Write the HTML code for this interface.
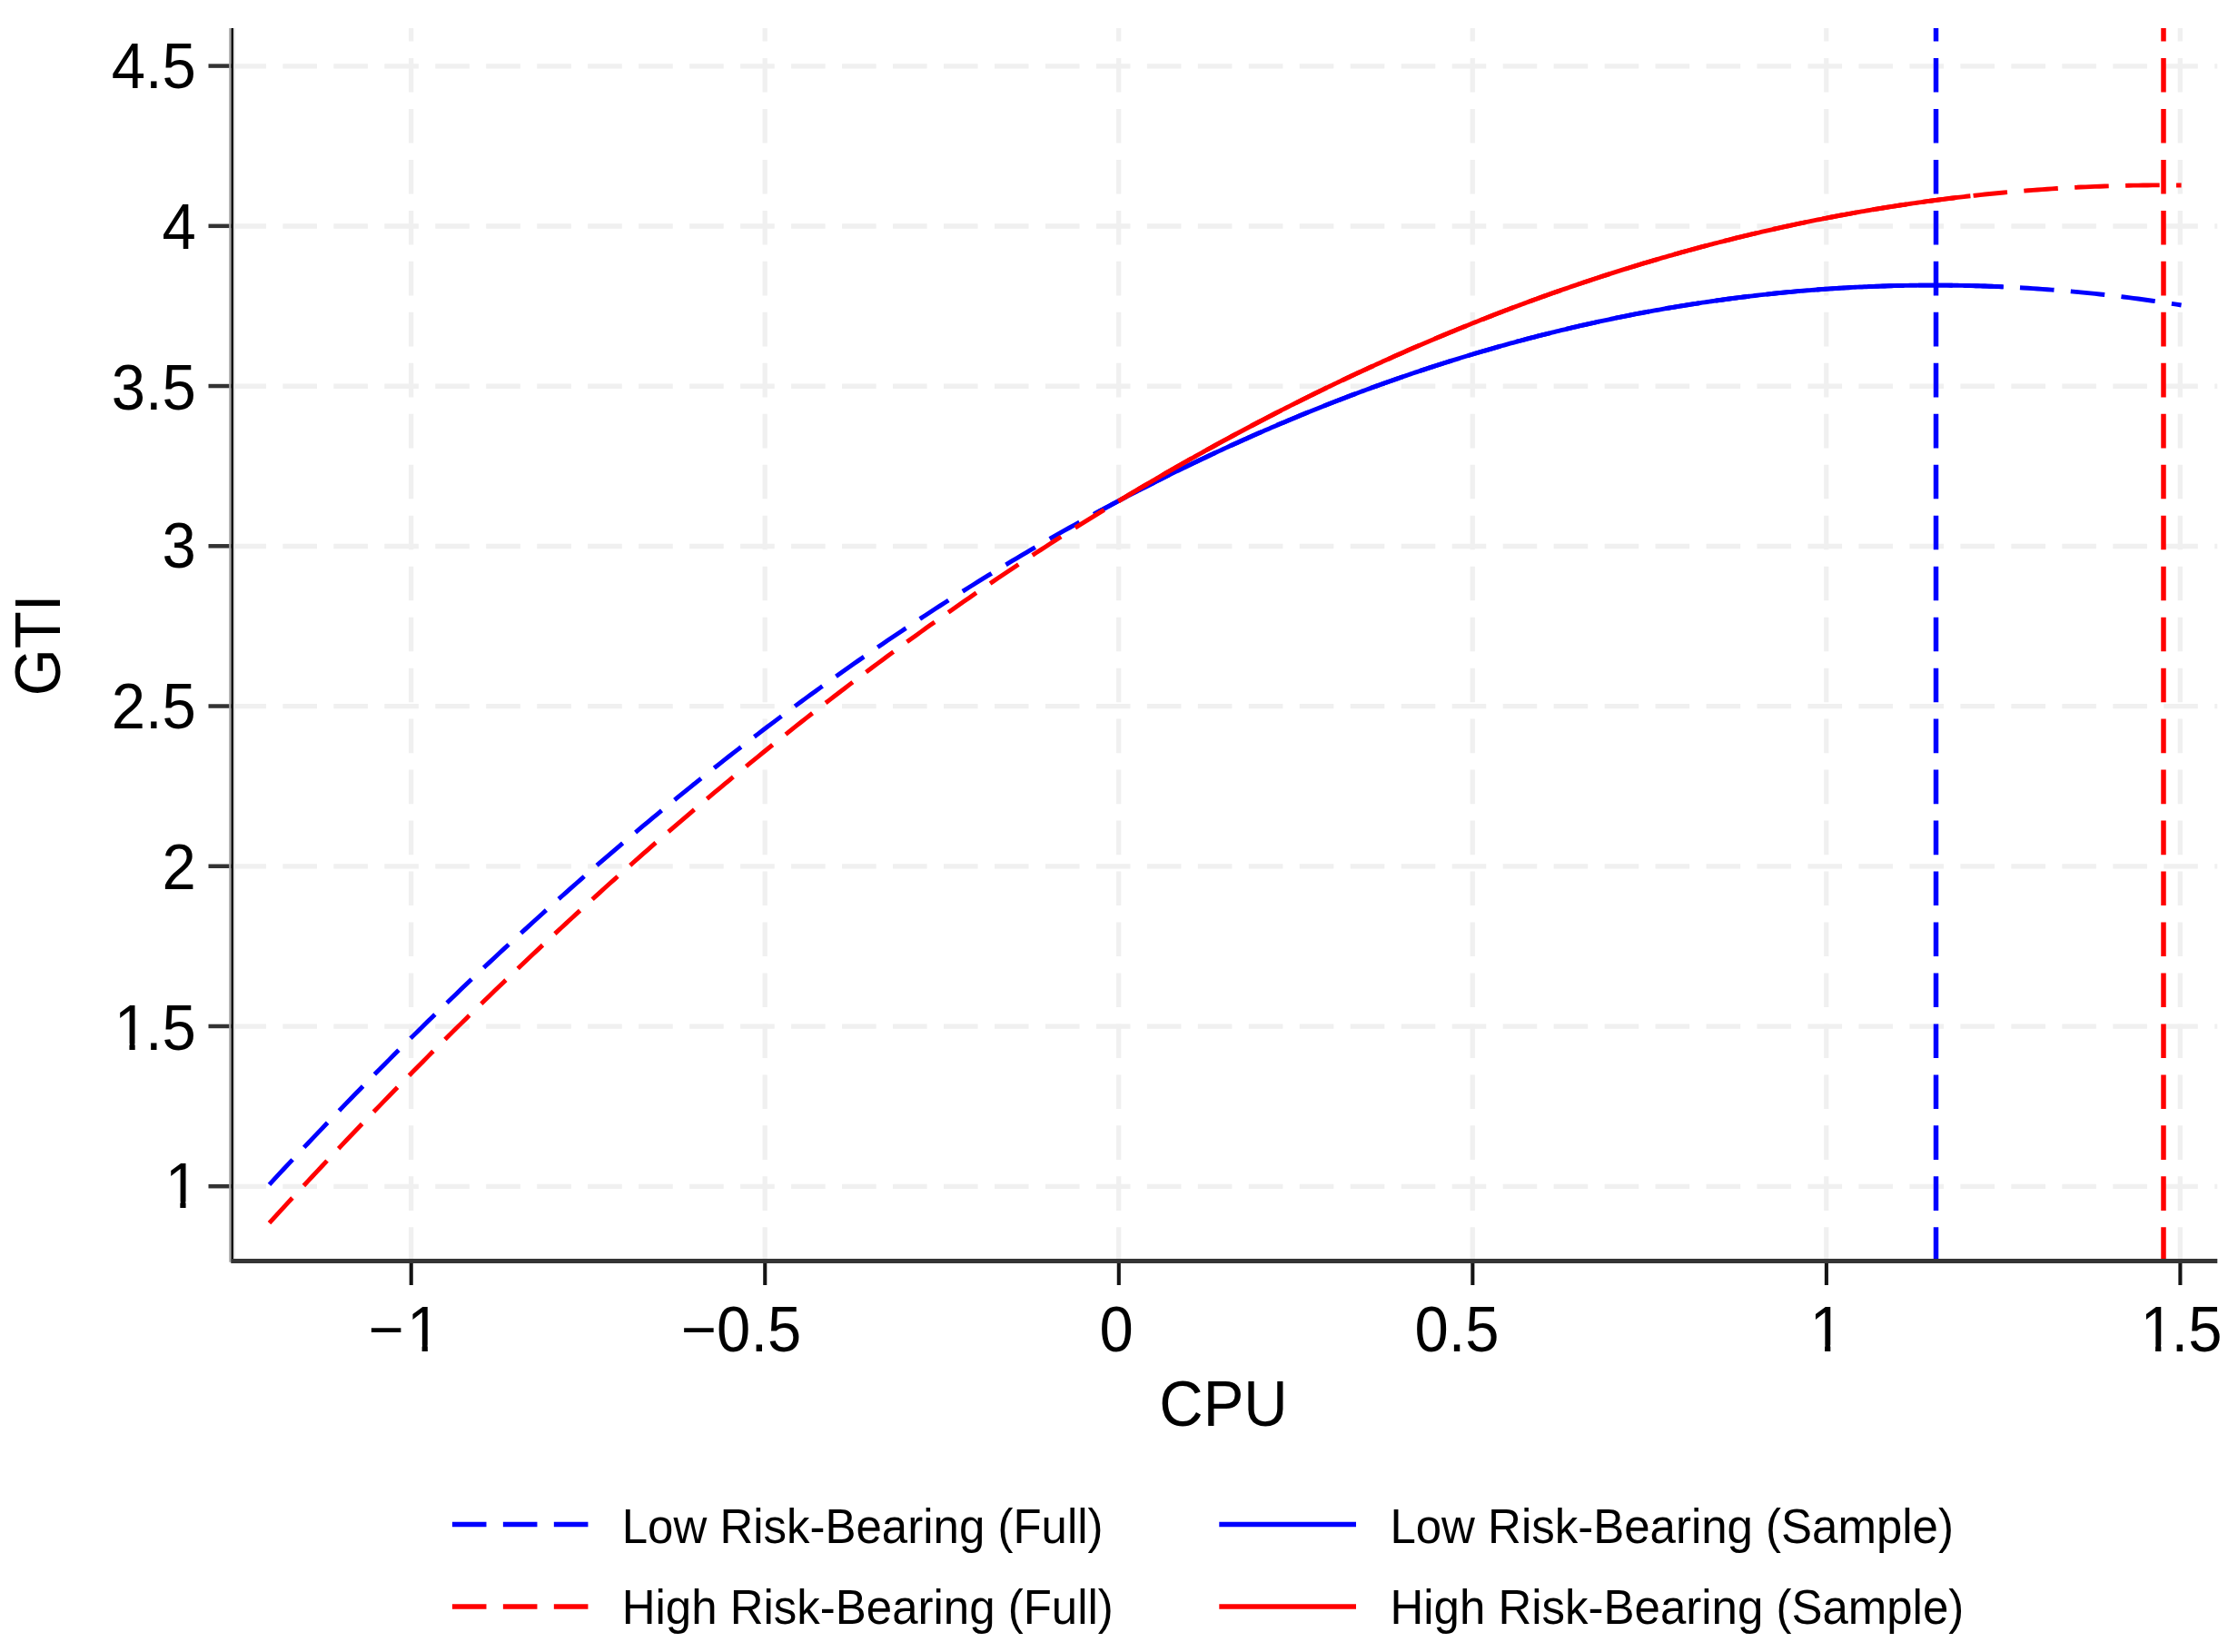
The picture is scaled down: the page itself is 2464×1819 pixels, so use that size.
<!DOCTYPE html>
<html lang="en"><head><meta charset="utf-8"><title>GTI vs CPU</title>
<style>html,body{margin:0;padding:0;background:#fff;overflow:hidden}svg{display:block}text{font-family:"Liberation Sans", Arial, Helvetica, sans-serif;fill:#000}</style></head>
<body>
<svg width="2464" height="1819" viewBox="0 0 2464 1819">
<rect width="2464" height="1819" fill="#fff"/>
<g stroke="#f0f0f0" stroke-width="5.3" stroke-dasharray="37.6 18.37" fill="none">
<path d="M255.40 1306.40 H2441.30"/>
<path d="M255.40 1130.17 H2441.30"/>
<path d="M255.40 953.94 H2441.30"/>
<path d="M255.40 777.71 H2441.30"/>
<path d="M255.40 601.48 H2441.30"/>
<path d="M255.40 425.25 H2441.30"/>
<path d="M255.40 249.02 H2441.30"/>
<path d="M255.40 72.79 H2441.30"/>
<path d="M452.62 1388.90 V30.90"/>
<path d="M842.16 1388.90 V30.90"/>
<path d="M1231.70 1388.90 V30.90"/>
<path d="M1621.24 1388.90 V30.90"/>
<path d="M2010.78 1388.90 V30.90"/>
<path d="M2400.32 1388.90 V30.90"/>
</g>
<g stroke-width="5.5" stroke-dasharray="37.6 18.37" fill="none">
<path stroke="#0000ff" d="M2131.50 1388.90 V30.90"/>
<path stroke="#ff0000" d="M2382.00 1388.90 V30.90"/>
</g>
<g stroke-width="4.9" fill="none" stroke-linejoin="round">
<path stroke="#0000ff" stroke-dasharray="37.6 18.37" d="M296.50 1304.31 L301.78 1298.61 L307.06 1292.94 L312.33 1287.27 L317.61 1281.63 L322.88 1276.00 L328.16 1270.39 L333.44 1264.79 L338.71 1259.21 L343.99 1253.65 L349.26 1248.11 L354.54 1242.58 L359.81 1237.06 L365.09 1231.57 L370.37 1226.09 L375.64 1220.62 L380.92 1215.17 L386.19 1209.74 L391.47 1204.33 L396.75 1198.93 L402.02 1193.55 L407.30 1188.18 L412.57 1182.83 L417.85 1177.50 L423.13 1172.18 L428.40 1166.88 L433.68 1161.60 L438.95 1156.33 L444.23 1151.08 L449.50 1145.85 L454.78 1140.63 L460.06 1135.43 L465.33 1130.24 L470.61 1125.08 L475.88 1119.92 L481.16 1114.79 L486.44 1109.67 L491.71 1104.56 L496.99 1099.48 L502.26 1094.41 L507.54 1089.35 L512.81 1084.32 L518.09 1079.30 L523.37 1074.29 L528.64 1069.30 L533.92 1064.33 L539.19 1059.38 L544.47 1054.44 L549.75 1049.52 L555.02 1044.61 L560.30 1039.72 L565.57 1034.85 L570.85 1029.99 L576.13 1025.15 L581.40 1020.33 L586.68 1015.52 L591.95 1010.73 L597.23 1005.95 L602.50 1001.20 L607.78 996.45 L613.06 991.73 L618.33 987.02 L623.61 982.33 L628.88 977.65 L634.16 972.99 L639.44 968.35 L644.71 963.72 L649.99 959.11 L655.26 954.52 L660.54 949.94 L665.82 945.38 L671.09 940.83 L676.37 936.31 L681.64 931.79 L686.92 927.30 L692.19 922.82 L697.47 918.36 L702.75 913.91 L708.02 909.48 L713.30 905.07 L718.57 900.67 L723.85 896.29 L729.13 891.93 L734.40 887.58 L739.68 883.25 L744.95 878.93 L750.23 874.63 L755.51 870.35 L760.78 866.09 L766.06 861.84 L771.33 857.61 L776.61 853.39 L781.88 849.19 L787.16 845.01 L792.44 840.84 L797.71 836.69 L802.99 832.55 L808.26 828.44 L813.54 824.33 L818.82 820.25 L824.09 816.18 L829.37 812.13 L834.64 808.09 L839.92 804.07 L845.20 800.07 L850.47 796.08 L855.75 792.11 L861.02 788.16 L866.30 784.22 L871.57 780.30 L876.85 776.40 L882.13 772.51 L887.40 768.64 L892.68 764.78 L897.95 760.94 L903.23 757.12 L908.51 753.32 L913.78 749.53 L919.06 745.75 L924.33 742.00 L929.61 738.26 L934.88 734.53 L940.16 730.83 L945.44 727.13 L950.71 723.46 L955.99 719.80 L961.26 716.16 L966.54 712.54 L971.82 708.93 L977.09 705.33 L982.37 701.76 L987.64 698.20 L992.92 694.66 L998.20 691.13 L1003.47 687.62 L1008.75 684.12 L1014.02 680.65 L1019.30 677.19 L1024.57 673.74 L1029.85 670.31 L1035.13 666.90 L1040.40 663.51 L1045.68 660.13 L1050.95 656.76 L1056.23 653.42 L1061.51 650.09 L1066.78 646.77 L1072.06 643.48 L1077.33 640.20 L1082.61 636.93 L1087.89 633.69 L1093.16 630.45 L1098.44 627.24 L1103.71 624.04 L1108.99 620.86 L1114.26 617.69 L1119.54 614.54 L1124.82 611.41 L1130.09 608.29 L1135.37 605.19 L1140.64 602.11 L1145.92 599.04 L1151.20 595.99 L1156.47 592.96 L1161.75 589.94 L1167.02 586.94 L1172.30 583.96 L1177.58 580.99 L1182.85 578.03 L1188.13 575.10 L1193.40 572.18 L1198.68 569.28 L1203.95 566.39 L1209.23 563.52 L1214.51 560.67 L1219.78 557.83 L1225.06 555.01 L1230.33 552.20 L1235.61 549.42 L1240.89 546.64 L1246.16 543.89 L1251.44 541.15 L1256.71 538.43 L1261.99 535.72 L1267.27 533.03 L1272.54 530.36 L1277.82 527.70 L1283.09 525.06 L1288.37 522.44 L1293.64 519.83 L1298.92 517.24 L1304.20 514.67 L1309.47 512.11 L1314.75 509.57 L1320.02 507.04 L1325.30 504.53 L1330.58 502.04 L1335.85 499.56 L1341.13 497.10 L1346.40 494.66 L1351.68 492.23 L1356.95 489.82 L1362.23 487.43 L1367.51 485.05 L1372.78 482.69 L1378.06 480.35 L1383.33 478.02 L1388.61 475.71 L1393.89 473.41 L1399.16 471.13 L1404.44 468.87 L1409.71 466.62 L1414.99 464.39 L1420.27 462.18 L1425.54 459.98 L1430.82 457.80 L1436.09 455.64 L1441.37 453.49 L1446.64 451.36 L1451.92 449.24 L1457.20 447.15 L1462.47 445.06 L1467.75 443.00 L1473.02 440.95 L1478.30 438.92 L1483.58 436.90 L1488.85 434.90 L1494.13 432.92 L1499.40 430.95 L1504.68 429.00 L1509.96 427.07 L1515.23 425.15 L1520.51 423.25 L1525.78 421.36 L1531.06 419.49 L1536.33 417.64 L1541.61 415.80 L1546.89 413.99 L1552.16 412.18 L1557.44 410.40 L1562.71 408.63 L1567.99 406.87 L1573.27 405.13 L1578.54 403.41 L1583.82 401.71 L1589.09 400.02 L1594.37 398.35 L1599.65 396.70 L1604.92 395.06 L1610.20 393.43 L1615.47 391.83 L1620.75 390.24 L1626.02 388.67 L1631.30 387.11 L1636.58 385.57 L1641.85 384.05 L1647.13 382.54 L1652.40 381.05 L1657.68 379.57 L1662.96 378.11 L1668.23 376.67 L1673.51 375.25 L1678.78 373.84 L1684.06 372.45 L1689.34 371.07 L1694.61 369.71 L1699.89 368.37 L1705.16 367.04 L1710.44 365.73 L1715.71 364.44 L1720.99 363.16 L1726.27 361.90 L1731.54 360.65 L1736.82 359.42 L1742.09 358.21 L1747.37 357.02 L1752.65 355.84 L1757.92 354.68 L1763.20 353.53 L1768.47 352.40 L1773.75 351.29 L1779.02 350.19 L1784.30 349.11 L1789.58 348.04 L1794.85 347.00 L1800.13 345.97 L1805.40 344.95 L1810.68 343.95 L1815.96 342.97 L1821.23 342.00 L1826.51 341.06 L1831.78 340.12 L1837.06 339.21 L1842.34 338.31 L1847.61 337.42 L1852.89 336.56 L1858.16 335.71 L1863.44 334.87 L1868.71 334.05 L1873.99 333.25 L1879.27 332.47 L1884.54 331.70 L1889.82 330.95 L1895.09 330.21 L1900.37 329.49 L1905.65 328.79 L1910.92 328.10 L1916.20 327.43 L1921.47 326.78 L1926.75 326.14 L1932.03 325.52 L1937.30 324.92 L1942.58 324.33 L1947.85 323.76 L1953.13 323.20 L1958.40 322.66 L1963.68 322.14 L1968.96 321.63 L1974.23 321.14 L1979.51 320.67 L1984.78 320.22 L1990.06 319.77 L1995.34 319.35 L2000.61 318.94 L2005.89 318.55 L2011.16 318.18 L2016.44 317.82 L2021.72 317.48 L2026.99 317.15 L2032.27 316.84 L2037.54 316.55 L2042.82 316.28 L2048.09 316.02 L2053.37 315.77 L2058.65 315.55 L2063.92 315.34 L2069.20 315.14 L2074.47 314.96 L2079.75 314.80 L2085.03 314.66 L2090.30 314.53 L2095.58 314.42 L2100.85 314.32 L2106.13 314.24 L2111.41 314.18 L2116.68 314.14 L2121.96 314.11 L2127.23 314.09 L2132.51 314.10 L2137.78 314.11 L2143.06 314.15 L2148.34 314.20 L2153.61 314.27 L2158.89 314.36 L2164.16 314.46 L2169.44 314.58 L2174.72 314.71 L2179.99 314.86 L2185.27 315.03 L2190.54 315.21 L2195.82 315.41 L2201.09 315.63 L2206.37 315.86 L2211.65 316.11 L2216.92 316.38 L2222.20 316.66 L2227.47 316.96 L2232.75 317.27 L2238.03 317.60 L2243.30 317.95 L2248.58 318.32 L2253.85 318.70 L2259.13 319.09 L2264.41 319.51 L2269.68 319.94 L2274.96 320.38 L2280.23 320.85 L2285.51 321.33 L2290.78 321.82 L2296.06 322.33 L2301.34 322.86 L2306.61 323.41 L2311.89 323.97 L2317.16 324.55 L2322.44 325.14 L2327.72 325.75 L2332.99 326.38 L2338.27 327.02 L2343.54 327.68 L2348.82 328.36 L2354.10 329.05 L2359.37 329.76 L2364.65 330.48 L2369.92 331.23 L2375.20 331.98 L2380.47 332.76 L2385.75 333.55 L2391.03 334.36 L2396.30 335.18 L2401.58 336.02"/>
<path stroke="#0000ff" d="M1204.13 566.29 L1206.64 564.93 L1209.15 563.56 L1211.66 562.20 L1214.17 560.85 L1216.68 559.49 L1219.19 558.15 L1221.70 556.80 L1224.21 555.46 L1226.72 554.12 L1229.23 552.79 L1231.74 551.46 L1234.25 550.13 L1236.76 548.81 L1239.27 547.49 L1241.78 546.17 L1244.29 544.86 L1246.80 543.56 L1249.31 542.25 L1251.82 540.95 L1254.33 539.65 L1256.84 538.36 L1259.35 537.07 L1261.86 535.79 L1264.37 534.50 L1266.88 533.23 L1269.39 531.95 L1271.90 530.68 L1274.41 529.41 L1276.92 528.15 L1279.43 526.89 L1281.94 525.64 L1284.45 524.38 L1286.96 523.14 L1289.47 521.89 L1291.98 520.65 L1294.49 519.41 L1297.00 518.18 L1299.51 516.95 L1302.02 515.72 L1304.53 514.50 L1307.04 513.28 L1309.55 512.07 L1312.06 510.86 L1314.57 509.65 L1317.08 508.45 L1319.59 507.25 L1322.10 506.05 L1324.61 504.86 L1327.12 503.67 L1329.63 502.48 L1332.14 501.30 L1334.65 500.12 L1337.16 498.95 L1339.67 497.78 L1342.18 496.61 L1344.69 495.45 L1347.20 494.29 L1349.71 493.14 L1352.22 491.98 L1354.73 490.84 L1357.24 489.69 L1359.75 488.55 L1362.26 487.41 L1364.77 486.28 L1367.29 485.15 L1369.80 484.03 L1372.31 482.90 L1374.82 481.79 L1377.33 480.67 L1379.84 479.56 L1382.35 478.45 L1384.86 477.35 L1387.37 476.25 L1389.88 475.15 L1392.39 474.06 L1394.90 472.97 L1397.41 471.89 L1399.92 470.81 L1402.43 469.73 L1404.94 468.66 L1407.45 467.59 L1409.96 466.52 L1412.47 465.46 L1414.98 464.40 L1417.49 463.34 L1420.00 462.29 L1422.51 461.25 L1425.02 460.20 L1427.53 459.16 L1430.04 458.12 L1432.55 457.09 L1435.06 456.06 L1437.57 455.04 L1440.08 454.02 L1442.59 453.00 L1445.10 451.98 L1447.61 450.97 L1450.12 449.97 L1452.63 448.96 L1455.14 447.96 L1457.65 446.97 L1460.16 445.98 L1462.67 444.99 L1465.18 444.00 L1467.69 443.02 L1470.20 442.05 L1472.71 441.07 L1475.22 440.10 L1477.73 439.14 L1480.24 438.17 L1482.75 437.22 L1485.26 436.26 L1487.77 435.31 L1490.28 434.36 L1492.79 433.42 L1495.30 432.48 L1497.81 431.54 L1500.32 430.61 L1502.83 429.68 L1505.34 428.76 L1507.85 427.84 L1510.36 426.92 L1512.87 426.00 L1515.38 425.09 L1517.89 424.19 L1520.40 423.29 L1522.91 422.39 L1525.42 421.49 L1527.93 420.60 L1530.44 419.71 L1532.95 418.83 L1535.46 417.95 L1537.97 417.07 L1540.48 416.20 L1542.99 415.33 L1545.50 414.46 L1548.01 413.60 L1550.52 412.74 L1553.03 411.89 L1555.54 411.04 L1558.05 410.19 L1560.56 409.35 L1563.07 408.51 L1565.58 407.67 L1568.09 406.84 L1570.60 406.01 L1573.11 405.19 L1575.62 404.37 L1578.13 403.55 L1580.64 402.73 L1583.15 401.92 L1585.66 401.12 L1588.17 400.32 L1590.68 399.52 L1593.19 398.72 L1595.70 397.93 L1598.21 397.14 L1600.72 396.36 L1603.23 395.58 L1605.74 394.80 L1608.25 394.03 L1610.76 393.26 L1613.27 392.50 L1615.78 391.74 L1618.29 390.98 L1620.80 390.22 L1623.31 389.47 L1625.82 388.73 L1628.33 387.98 L1630.84 387.24 L1633.35 386.51 L1635.86 385.78 L1638.37 385.05 L1640.88 384.32 L1643.39 383.60 L1645.90 382.89 L1648.41 382.17 L1650.92 381.46 L1653.43 380.76 L1655.94 380.06 L1658.45 379.36 L1660.96 378.66 L1663.47 377.97 L1665.98 377.29 L1668.49 376.60 L1671.00 375.92 L1673.51 375.25 L1676.02 374.57 L1678.53 373.91 L1681.04 373.24 L1683.55 372.58 L1686.06 371.92 L1688.57 371.27 L1691.08 370.62 L1693.59 369.97 L1696.10 369.33 L1698.61 368.69 L1701.12 368.06 L1703.63 367.42 L1706.14 366.80 L1708.65 366.17 L1711.16 365.55 L1713.67 364.94 L1716.18 364.32 L1718.69 363.71 L1721.20 363.11 L1723.71 362.51 L1726.22 361.91 L1728.73 361.31 L1731.24 360.72 L1733.75 360.14 L1736.26 359.55 L1738.77 358.97 L1741.28 358.40 L1743.79 357.83 L1746.30 357.26 L1748.81 356.69 L1751.32 356.13 L1753.83 355.58 L1756.34 355.02 L1758.85 354.47 L1761.36 353.93 L1763.87 353.38 L1766.38 352.85 L1768.89 352.31 L1771.40 351.78 L1773.91 351.25 L1776.42 350.73 L1778.93 350.21 L1781.44 349.69 L1783.95 349.18 L1786.46 348.67 L1788.97 348.17 L1791.48 347.66 L1793.99 347.17 L1796.50 346.67 L1799.01 346.18 L1801.52 345.70 L1804.03 345.21 L1806.54 344.73 L1809.05 344.26 L1811.56 343.79 L1814.07 343.32 L1816.58 342.85 L1819.09 342.39 L1821.60 341.94 L1824.11 341.48 L1826.62 341.04 L1829.13 340.59 L1831.64 340.15 L1834.15 339.71 L1836.66 339.27 L1839.17 338.84 L1841.68 338.42 L1844.19 337.99 L1846.70 337.57 L1849.21 337.16 L1851.72 336.75 L1854.23 336.34 L1856.74 335.93 L1859.25 335.53 L1861.76 335.13 L1864.27 334.74 L1866.78 334.35 L1869.29 333.96 L1871.80 333.58 L1874.31 333.20 L1876.82 332.83 L1879.33 332.46 L1881.84 332.09 L1884.35 331.73 L1886.86 331.37 L1889.37 331.01 L1891.88 330.66 L1894.39 330.31 L1896.90 329.96 L1899.41 329.62 L1901.92 329.28 L1904.43 328.95 L1906.94 328.62 L1909.45 328.29 L1911.96 327.97 L1914.47 327.65 L1916.98 327.33 L1919.49 327.02 L1922.00 326.71 L1924.51 326.41 L1927.02 326.11 L1929.53 325.81 L1932.04 325.52 L1934.55 325.23 L1937.06 324.94 L1939.57 324.66 L1942.08 324.38 L1944.60 324.11 L1947.11 323.84 L1949.62 323.57 L1952.13 323.31 L1954.64 323.05 L1957.15 322.79 L1959.66 322.54 L1962.17 322.29 L1964.68 322.04 L1967.19 321.80 L1969.70 321.56 L1972.21 321.33 L1974.72 321.10 L1977.23 320.87 L1979.74 320.65 L1982.25 320.43 L1984.76 320.22 L1987.27 320.01 L1989.78 319.80 L1992.29 319.59 L1994.80 319.39 L1997.31 319.20 L1999.82 319.00 L2002.33 318.81 L2004.84 318.63 L2007.35 318.45 L2009.86 318.27 L2012.37 318.10 L2014.88 317.92 L2017.39 317.76 L2019.90 317.59 L2022.41 317.43 L2024.92 317.28 L2027.43 317.13 L2029.94 316.98 L2032.45 316.83 L2034.96 316.69 L2037.47 316.56 L2039.98 316.42 L2042.49 316.29 L2045.00 316.17 L2047.51 316.04 L2050.02 315.93 L2052.53 315.81 L2055.04 315.70 L2057.55 315.59 L2060.06 315.49 L2062.57 315.39 L2065.08 315.29 L2067.59 315.20 L2070.10 315.11 L2072.61 315.03 L2075.12 314.94 L2077.63 314.87 L2080.14 314.79 L2082.65 314.72 L2085.16 314.66 L2087.67 314.59 L2090.18 314.53 L2092.69 314.48 L2095.20 314.43 L2097.71 314.38 L2100.22 314.33 L2102.73 314.29 L2105.24 314.26 L2107.75 314.22 L2110.26 314.19 L2112.77 314.17 L2115.28 314.15 L2117.79 314.13 L2120.30 314.11 L2122.81 314.10 L2125.32 314.10 L2127.83 314.09 L2130.34 314.09 L2132.85 314.10 L2135.36 314.10 L2137.87 314.12 L2140.38 314.13 L2142.89 314.15 L2145.40 314.17 L2147.91 314.20 L2150.42 314.23 L2152.93 314.26 L2155.44 314.30 L2157.95 314.34 L2160.46 314.39 L2162.97 314.43 L2165.48 314.49 L2167.99 314.54 L2170.50 314.60 L2173.01 314.67 L2175.52 314.73 L2178.03 314.80 L2180.54 314.88 L2183.05 314.96 L2185.56 315.04 L2188.07 315.12 L2190.58 315.21 L2193.09 315.31 L2195.60 315.40 L2198.11 315.50 L2200.62 315.61 L2203.13 315.72 L2205.64 315.83"/>
<path stroke="#ff0000" stroke-dasharray="37.6 18.37" d="M296.50 1346.69 L301.78 1340.92 L307.06 1335.16 L312.33 1329.41 L317.61 1323.68 L322.88 1317.97 L328.16 1312.26 L333.44 1306.58 L338.71 1300.91 L343.99 1295.25 L349.26 1289.60 L354.54 1283.98 L359.81 1278.36 L365.09 1272.76 L370.37 1267.18 L375.64 1261.61 L380.92 1256.06 L386.19 1250.52 L391.47 1244.99 L396.75 1239.48 L402.02 1233.98 L407.30 1228.50 L412.57 1223.03 L417.85 1217.58 L423.13 1212.14 L428.40 1206.72 L433.68 1201.31 L438.95 1195.92 L444.23 1190.54 L449.50 1185.17 L454.78 1179.82 L460.06 1174.49 L465.33 1169.16 L470.61 1163.86 L475.88 1158.57 L481.16 1153.29 L486.44 1148.03 L491.71 1142.78 L496.99 1137.55 L502.26 1132.33 L507.54 1127.12 L512.81 1121.93 L518.09 1116.76 L523.37 1111.60 L528.64 1106.45 L533.92 1101.32 L539.19 1096.21 L544.47 1091.10 L549.75 1086.02 L555.02 1080.94 L560.30 1075.89 L565.57 1070.84 L570.85 1065.82 L576.13 1060.80 L581.40 1055.80 L586.68 1050.82 L591.95 1045.85 L597.23 1040.89 L602.50 1035.95 L607.78 1031.03 L613.06 1026.11 L618.33 1021.22 L623.61 1016.33 L628.88 1011.47 L634.16 1006.61 L639.44 1001.78 L644.71 996.95 L649.99 992.14 L655.26 987.35 L660.54 982.57 L665.82 977.80 L671.09 973.05 L676.37 968.32 L681.64 963.60 L686.92 958.89 L692.19 954.20 L697.47 949.52 L702.75 944.86 L708.02 940.21 L713.30 935.57 L718.57 930.96 L723.85 926.35 L729.13 921.76 L734.40 917.19 L739.68 912.63 L744.95 908.08 L750.23 903.55 L755.51 899.03 L760.78 894.53 L766.06 890.04 L771.33 885.57 L776.61 881.11 L781.88 876.67 L787.16 872.24 L792.44 867.83 L797.71 863.43 L802.99 859.04 L808.26 854.67 L813.54 850.31 L818.82 845.97 L824.09 841.65 L829.37 837.34 L834.64 833.04 L839.92 828.76 L845.20 824.49 L850.47 820.23 L855.75 816.00 L861.02 811.77 L866.30 807.56 L871.57 803.37 L876.85 799.19 L882.13 795.02 L887.40 790.87 L892.68 786.73 L897.95 782.61 L903.23 778.50 L908.51 774.41 L913.78 770.33 L919.06 766.27 L924.33 762.22 L929.61 758.19 L934.88 754.17 L940.16 750.16 L945.44 746.17 L950.71 742.20 L955.99 738.24 L961.26 734.29 L966.54 730.36 L971.82 726.44 L977.09 722.54 L982.37 718.65 L987.64 714.78 L992.92 710.92 L998.20 707.08 L1003.47 703.25 L1008.75 699.43 L1014.02 695.63 L1019.30 691.85 L1024.57 688.08 L1029.85 684.32 L1035.13 680.58 L1040.40 676.85 L1045.68 673.14 L1050.95 669.44 L1056.23 665.76 L1061.51 662.09 L1066.78 658.44 L1072.06 654.80 L1077.33 651.18 L1082.61 647.57 L1087.89 643.97 L1093.16 640.39 L1098.44 636.82 L1103.71 633.27 L1108.99 629.74 L1114.26 626.21 L1119.54 622.71 L1124.82 619.21 L1130.09 615.74 L1135.37 612.27 L1140.64 608.82 L1145.92 605.39 L1151.20 601.97 L1156.47 598.56 L1161.75 595.17 L1167.02 591.80 L1172.30 588.44 L1177.58 585.09 L1182.85 581.76 L1188.13 578.44 L1193.40 575.14 L1198.68 571.85 L1203.95 568.58 L1209.23 565.32 L1214.51 562.07 L1219.78 558.84 L1225.06 555.63 L1230.33 552.43 L1235.61 549.24 L1240.89 546.07 L1246.16 542.92 L1251.44 539.77 L1256.71 536.65 L1261.99 533.53 L1267.27 530.44 L1272.54 527.35 L1277.82 524.28 L1283.09 521.23 L1288.37 518.19 L1293.64 515.17 L1298.92 512.15 L1304.20 509.16 L1309.47 506.18 L1314.75 503.21 L1320.02 500.26 L1325.30 497.32 L1330.58 494.40 L1335.85 491.49 L1341.13 488.60 L1346.40 485.72 L1351.68 482.86 L1356.95 480.01 L1362.23 477.17 L1367.51 474.35 L1372.78 471.55 L1378.06 468.76 L1383.33 465.98 L1388.61 463.22 L1393.89 460.47 L1399.16 457.74 L1404.44 455.02 L1409.71 452.32 L1414.99 449.63 L1420.27 446.96 L1425.54 444.30 L1430.82 441.65 L1436.09 439.02 L1441.37 436.41 L1446.64 433.81 L1451.92 431.22 L1457.20 428.65 L1462.47 426.09 L1467.75 423.55 L1473.02 421.02 L1478.30 418.51 L1483.58 416.01 L1488.85 413.53 L1494.13 411.06 L1499.40 408.60 L1504.68 406.17 L1509.96 403.74 L1515.23 401.33 L1520.51 398.93 L1525.78 396.55 L1531.06 394.19 L1536.33 391.83 L1541.61 389.50 L1546.89 387.17 L1552.16 384.87 L1557.44 382.57 L1562.71 380.29 L1567.99 378.03 L1573.27 375.78 L1578.54 373.54 L1583.82 371.32 L1589.09 369.12 L1594.37 366.93 L1599.65 364.75 L1604.92 362.59 L1610.20 360.44 L1615.47 358.31 L1620.75 356.19 L1626.02 354.09 L1631.30 352.00 L1636.58 349.92 L1641.85 347.86 L1647.13 345.82 L1652.40 343.79 L1657.68 341.77 L1662.96 339.77 L1668.23 337.79 L1673.51 335.81 L1678.78 333.86 L1684.06 331.91 L1689.34 329.99 L1694.61 328.07 L1699.89 326.17 L1705.16 324.29 L1710.44 322.42 L1715.71 320.57 L1720.99 318.73 L1726.27 316.90 L1731.54 315.09 L1736.82 313.29 L1742.09 311.51 L1747.37 309.74 L1752.65 307.99 L1757.92 306.25 L1763.20 304.53 L1768.47 302.82 L1773.75 301.13 L1779.02 299.45 L1784.30 297.78 L1789.58 296.13 L1794.85 294.50 L1800.13 292.88 L1805.40 291.27 L1810.68 289.68 L1815.96 288.10 L1821.23 286.54 L1826.51 284.99 L1831.78 283.46 L1837.06 281.94 L1842.34 280.44 L1847.61 278.95 L1852.89 277.47 L1858.16 276.01 L1863.44 274.57 L1868.71 273.14 L1873.99 271.72 L1879.27 270.32 L1884.54 268.93 L1889.82 267.56 L1895.09 266.21 L1900.37 264.86 L1905.65 263.53 L1910.92 262.22 L1916.20 260.92 L1921.47 259.64 L1926.75 258.37 L1932.03 257.11 L1937.30 255.87 L1942.58 254.65 L1947.85 253.43 L1953.13 252.24 L1958.40 251.06 L1963.68 249.89 L1968.96 248.74 L1974.23 247.60 L1979.51 246.47 L1984.78 245.36 L1990.06 244.27 L1995.34 243.19 L2000.61 242.13 L2005.89 241.08 L2011.16 240.04 L2016.44 239.02 L2021.72 238.01 L2026.99 237.02 L2032.27 236.04 L2037.54 235.08 L2042.82 234.13 L2048.09 233.20 L2053.37 232.28 L2058.65 231.38 L2063.92 230.49 L2069.20 229.61 L2074.47 228.75 L2079.75 227.91 L2085.03 227.07 L2090.30 226.26 L2095.58 225.46 L2100.85 224.67 L2106.13 223.90 L2111.41 223.14 L2116.68 222.40 L2121.96 221.67 L2127.23 220.95 L2132.51 220.25 L2137.78 219.57 L2143.06 218.90 L2148.34 218.24 L2153.61 217.60 L2158.89 216.98 L2164.16 216.36 L2169.44 215.77 L2174.72 215.19 L2179.99 214.62 L2185.27 214.06 L2190.54 213.53 L2195.82 213.00 L2201.09 212.49 L2206.37 212.00 L2211.65 211.52 L2216.92 211.05 L2222.20 210.60 L2227.47 210.17 L2232.75 209.74 L2238.03 209.34 L2243.30 208.95 L2248.58 208.57 L2253.85 208.20 L2259.13 207.86 L2264.41 207.52 L2269.68 207.20 L2274.96 206.90 L2280.23 206.61 L2285.51 206.33 L2290.78 206.07 L2296.06 205.83 L2301.34 205.60 L2306.61 205.38 L2311.89 205.18 L2317.16 204.99 L2322.44 204.82 L2327.72 204.66 L2332.99 204.51 L2338.27 204.39 L2343.54 204.27 L2348.82 204.17 L2354.10 204.09 L2359.37 204.02 L2364.65 203.96 L2369.92 203.92 L2375.20 203.89 L2380.47 203.88 L2385.75 203.88 L2391.03 203.90 L2396.30 203.93 L2401.58 203.98"/>
<path stroke="#ff0000" d="M1231.40 551.78 L1233.75 550.36 L1236.10 548.95 L1238.45 547.53 L1240.80 546.12 L1243.15 544.71 L1245.51 543.31 L1247.86 541.90 L1250.21 540.50 L1252.56 539.11 L1254.91 537.71 L1257.26 536.32 L1259.61 534.93 L1261.96 533.55 L1264.31 532.17 L1266.66 530.79 L1269.01 529.41 L1271.37 528.04 L1273.72 526.67 L1276.07 525.30 L1278.42 523.93 L1280.77 522.57 L1283.12 521.21 L1285.47 519.86 L1287.82 518.50 L1290.17 517.15 L1292.52 515.81 L1294.87 514.46 L1297.23 513.12 L1299.58 511.78 L1301.93 510.45 L1304.28 509.11 L1306.63 507.78 L1308.98 506.46 L1311.33 505.13 L1313.68 503.81 L1316.03 502.49 L1318.38 501.18 L1320.73 499.86 L1323.09 498.55 L1325.44 497.25 L1327.79 495.94 L1330.14 494.64 L1332.49 493.34 L1334.84 492.05 L1337.19 490.76 L1339.54 489.47 L1341.89 488.18 L1344.24 486.90 L1346.59 485.62 L1348.95 484.34 L1351.30 483.06 L1353.65 481.79 L1356.00 480.52 L1358.35 479.26 L1360.70 477.99 L1363.05 476.73 L1365.40 475.48 L1367.75 474.22 L1370.10 472.97 L1372.45 471.72 L1374.81 470.48 L1377.16 469.23 L1379.51 467.99 L1381.86 466.76 L1384.21 465.52 L1386.56 464.29 L1388.91 463.06 L1391.26 461.84 L1393.61 460.61 L1395.96 459.39 L1398.31 458.18 L1400.67 456.96 L1403.02 455.75 L1405.37 454.55 L1407.72 453.34 L1410.07 452.14 L1412.42 450.94 L1414.77 449.74 L1417.12 448.55 L1419.47 447.36 L1421.82 446.17 L1424.17 444.99 L1426.53 443.80 L1428.88 442.62 L1431.23 441.45 L1433.58 440.28 L1435.93 439.10 L1438.28 437.94 L1440.63 436.77 L1442.98 435.61 L1445.33 434.45 L1447.68 433.30 L1450.03 432.14 L1452.39 430.99 L1454.74 429.85 L1457.09 428.70 L1459.44 427.56 L1461.79 426.42 L1464.14 425.29 L1466.49 424.16 L1468.84 423.03 L1471.19 421.90 L1473.54 420.78 L1475.89 419.65 L1478.25 418.54 L1480.60 417.42 L1482.95 416.31 L1485.30 415.20 L1487.65 414.09 L1490.00 412.99 L1492.35 411.89 L1494.70 410.79 L1497.05 409.70 L1499.40 408.60 L1501.75 407.52 L1504.11 406.43 L1506.46 405.35 L1508.81 404.27 L1511.16 403.19 L1513.51 402.11 L1515.86 401.04 L1518.21 399.97 L1520.56 398.91 L1522.91 397.85 L1525.26 396.79 L1527.61 395.73 L1529.97 394.67 L1532.32 393.62 L1534.67 392.58 L1537.02 391.53 L1539.37 390.49 L1541.72 389.45 L1544.07 388.41 L1546.42 387.38 L1548.77 386.35 L1551.12 385.32 L1553.47 384.29 L1555.83 383.27 L1558.18 382.25 L1560.53 381.24 L1562.88 380.22 L1565.23 379.21 L1567.58 378.20 L1569.93 377.20 L1572.28 376.20 L1574.63 375.20 L1576.98 374.20 L1579.33 373.21 L1581.69 372.22 L1584.04 371.23 L1586.39 370.25 L1588.74 369.27 L1591.09 368.29 L1593.44 367.31 L1595.79 366.34 L1598.14 365.37 L1600.49 364.40 L1602.84 363.44 L1605.19 362.48 L1607.55 361.52 L1609.90 360.56 L1612.25 359.61 L1614.60 358.66 L1616.95 357.71 L1619.30 356.77 L1621.65 355.83 L1624.00 354.89 L1626.35 353.96 L1628.70 353.02 L1631.05 352.09 L1633.41 351.17 L1635.76 350.24 L1638.11 349.32 L1640.46 348.41 L1642.81 347.49 L1645.16 346.58 L1647.51 345.67 L1649.86 344.77 L1652.21 343.86 L1654.56 342.96 L1656.91 342.06 L1659.27 341.17 L1661.62 340.28 L1663.97 339.39 L1666.32 338.50 L1668.67 337.62 L1671.02 336.74 L1673.37 335.86 L1675.72 334.99 L1678.07 334.12 L1680.42 333.25 L1682.77 332.39 L1685.13 331.52 L1687.48 330.66 L1689.83 329.81 L1692.18 328.95 L1694.53 328.10 L1696.88 327.25 L1699.23 326.41 L1701.58 325.57 L1703.93 324.73 L1706.28 323.89 L1708.63 323.06 L1710.99 322.23 L1713.34 321.40 L1715.69 320.58 L1718.04 319.75 L1720.39 318.93 L1722.74 318.12 L1725.09 317.31 L1727.44 316.50 L1729.79 315.69 L1732.14 314.88 L1734.49 314.08 L1736.85 313.28 L1739.20 312.49 L1741.55 311.70 L1743.90 310.91 L1746.25 310.12 L1748.60 309.33 L1750.95 308.55 L1753.30 307.77 L1755.65 307.00 L1758.00 306.23 L1760.35 305.46 L1762.71 304.69 L1765.06 303.93 L1767.41 303.17 L1769.76 302.41 L1772.11 301.65 L1774.46 300.90 L1776.81 300.15 L1779.16 299.41 L1781.51 298.66 L1783.86 297.92 L1786.21 297.18 L1788.57 296.45 L1790.92 295.72 L1793.27 294.99 L1795.62 294.26 L1797.97 293.54 L1800.32 292.82 L1802.67 292.10 L1805.02 291.39 L1807.37 290.68 L1809.72 289.97 L1812.07 289.26 L1814.43 288.56 L1816.78 287.86 L1819.13 287.16 L1821.48 286.47 L1823.83 285.78 L1826.18 285.09 L1828.53 284.40 L1830.88 283.72 L1833.23 283.04 L1835.58 282.37 L1837.93 281.69 L1840.29 281.02 L1842.64 280.35 L1844.99 279.69 L1847.34 279.03 L1849.69 278.37 L1852.04 277.71 L1854.39 277.06 L1856.74 276.41 L1859.09 275.76 L1861.44 275.11 L1863.79 274.47 L1866.15 273.83 L1868.50 273.20 L1870.85 272.56 L1873.20 271.93 L1875.55 271.31 L1877.90 270.68 L1880.25 270.06 L1882.60 269.44 L1884.95 268.83 L1887.30 268.21 L1889.65 267.61 L1892.01 267.00 L1894.36 266.39 L1896.71 265.79 L1899.06 265.19 L1901.41 264.60 L1903.76 264.01 L1906.11 263.42 L1908.46 262.83 L1910.81 262.25 L1913.16 261.67 L1915.51 261.09 L1917.87 260.51 L1920.22 259.94 L1922.57 259.37 L1924.92 258.81 L1927.27 258.24 L1929.62 257.68 L1931.97 257.12 L1934.32 256.57 L1936.67 256.02 L1939.02 255.47 L1941.37 254.92 L1943.73 254.38 L1946.08 253.84 L1948.43 253.30 L1950.78 252.77 L1953.13 252.24 L1955.48 251.71 L1957.83 251.18 L1960.18 250.66 L1962.53 250.14 L1964.88 249.62 L1967.23 249.11 L1969.59 248.60 L1971.94 248.09 L1974.29 247.59 L1976.64 247.08 L1978.99 246.58 L1981.34 246.09 L1983.69 245.59 L1986.04 245.10 L1988.39 244.61 L1990.74 244.13 L1993.09 243.65 L1995.45 243.17 L1997.80 242.69 L2000.15 242.22 L2002.50 241.75 L2004.85 241.28 L2007.20 240.82 L2009.55 240.35 L2011.90 239.90 L2014.25 239.44 L2016.60 238.99 L2018.95 238.54 L2021.31 238.09 L2023.66 237.65 L2026.01 237.20 L2028.36 236.77 L2030.71 236.33 L2033.06 235.90 L2035.41 235.47 L2037.76 235.04 L2040.11 234.62 L2042.46 234.20 L2044.81 233.78 L2047.17 233.36 L2049.52 232.95 L2051.87 232.54 L2054.22 232.13 L2056.57 231.73 L2058.92 231.33 L2061.27 230.93 L2063.62 230.54 L2065.97 230.14 L2068.32 229.76 L2070.67 229.37 L2073.03 228.99 L2075.38 228.61 L2077.73 228.23 L2080.08 227.85 L2082.43 227.48 L2084.78 227.11 L2087.13 226.75 L2089.48 226.38 L2091.83 226.02 L2094.18 225.67 L2096.53 225.31 L2098.89 224.96 L2101.24 224.61 L2103.59 224.27 L2105.94 223.92 L2108.29 223.58 L2110.64 223.25 L2112.99 222.91 L2115.34 222.58 L2117.69 222.25 L2120.04 221.93 L2122.39 221.61 L2124.75 221.29 L2127.10 220.97 L2129.45 220.66 L2131.80 220.35 L2134.15 220.04 L2136.50 219.73 L2138.85 219.43 L2141.20 219.13 L2143.55 218.84 L2145.90 218.54 L2148.25 218.25 L2150.61 217.97 L2152.96 217.68 L2155.31 217.40 L2157.66 217.12 L2160.01 216.85 L2162.36 216.57 L2164.71 216.30 L2167.06 216.03 L2169.41 215.77"/>
</g>
<g fill="none">
<path d="M452.72 1388.50 V1415.00" stroke="#141414" stroke-width="4.1"/>
<path d="M842.26 1388.50 V1415.00" stroke="#141414" stroke-width="4.1"/>
<path d="M1231.80 1388.50 V1415.00" stroke="#141414" stroke-width="4.1"/>
<path d="M1621.34 1388.50 V1415.00" stroke="#141414" stroke-width="4.1"/>
<path d="M2010.88 1388.50 V1415.00" stroke="#141414" stroke-width="4.1"/>
<path d="M2400.42 1388.50 V1415.00" stroke="#141414" stroke-width="4.1"/>
<path d="M229.50 1306.20 H255.40" stroke="#333" stroke-width="4.5"/>
<path d="M229.50 1129.97 H255.40" stroke="#333" stroke-width="4.5"/>
<path d="M229.50 953.74 H255.40" stroke="#333" stroke-width="4.5"/>
<path d="M229.50 777.51 H255.40" stroke="#333" stroke-width="4.5"/>
<path d="M229.50 601.28 H255.40" stroke="#333" stroke-width="4.5"/>
<path d="M229.50 425.05 H255.40" stroke="#333" stroke-width="4.5"/>
<path d="M229.50 248.82 H255.40" stroke="#333" stroke-width="4.5"/>
<path d="M229.50 72.59 H255.40" stroke="#333" stroke-width="4.5"/>
<path d="M253.4 30.90 V1389.70" stroke="#a8a8a8" stroke-width="2.4"/>
<path d="M257.9 30.90 V1386.50" stroke="#e4e4e4" stroke-width="2.0"/>
<path d="M255.75 30.90 V1390.90" stroke="#000" stroke-width="2.4"/>
<path d="M254.60 1388.50 H2441.30" stroke="#353535" stroke-width="5.0"/>
</g>
<g font-size="67">
<text transform="translate(178.54 1329.90) scale(1 1.04)" dx="3.1">1</text>
<text transform="translate(122.66 1155.87) scale(1 1.04)" dx="3.1 -3.1">1.5</text>
<text transform="translate(178.54 978.84) scale(1 1.04)">2</text>
<text transform="translate(122.66 802.21) scale(1 1.04)">2.5</text>
<text transform="translate(178.54 624.68) scale(1 1.04)">3</text>
<text transform="translate(122.66 450.65) scale(1 1.04)">3.5</text>
<text transform="translate(178.54 274.02) scale(1 1.04)">4</text>
<text transform="translate(122.66 97.29) scale(1 1.04)">4.5</text>
<text transform="translate(405.70 1487.70) scale(1 1.04)" dx="0 3.1">−1</text>
<text transform="translate(750.00 1487.70) scale(1 1.04)">−0.5</text>
<text transform="translate(1210.60 1487.70) scale(1 1.04)">0</text>
<text transform="translate(1557.40 1487.70) scale(1 1.04)">0.5</text>
<text transform="translate(1989.30 1487.70) scale(1 1.04)" dx="3.1">1</text>
<text transform="translate(2353.30 1487.70) scale(1 1.04)" dx="3.1 -3.1">1.5</text>
<text transform="translate(1347 1570) scale(1 1.04)" text-anchor="middle">CPU</text>
<text transform="translate(66 710.5) rotate(-90) scale(1 1.04)" text-anchor="middle">GTI</text>
</g>
<g fill="#fff">
<rect x="185.54" y="1322.99" width="12.79" height="8.21"/>
<rect x="204.56" y="1322.99" width="12.27" height="8.21"/>
<rect x="129.66" y="1148.96" width="12.79" height="8.21"/>
<rect x="148.68" y="1148.96" width="12.27" height="8.21"/>
<rect x="451.83" y="1480.79" width="12.79" height="8.21"/>
<rect x="470.85" y="1480.79" width="12.27" height="8.21"/>
<rect x="1996.30" y="1480.79" width="12.79" height="8.21"/>
<rect x="2015.32" y="1480.79" width="12.27" height="8.21"/>
<rect x="2360.30" y="1480.79" width="12.79" height="8.21"/>
<rect x="2379.32" y="1480.79" width="12.27" height="8.21"/>
</g>
<g stroke-width="5.5" fill="none">
<path stroke="#0000ff" stroke-dasharray="37.6 18.37" d="M497.90 1678.40 h149.6"/>
<path stroke="#ff0000" stroke-dasharray="37.6 18.37" d="M497.90 1768.90 h149.6"/>
<path stroke="#0000ff" d="M1342.30 1678.40 h150.7"/>
<path stroke="#ff0000" d="M1342.30 1768.90 h150.7"/>
</g>
<g font-size="51">
<text transform="translate(684.7 1698.6) scale(1 1.04)">Low Risk-Bearing (Full)</text>
<text transform="translate(684.7 1788.4) scale(1 1.04)">High Risk-Bearing (Full)</text>
<text transform="translate(1530.4 1698.6) scale(1 1.04)">Low Risk-Bearing (Sample)</text>
<text transform="translate(1530.4 1788.4) scale(1 1.04)">High Risk-Bearing (Sample)</text>
</g>
</svg></body></html>
